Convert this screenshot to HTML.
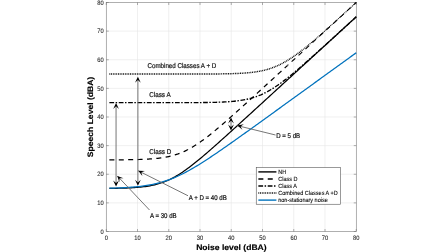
<!DOCTYPE html><html><head><meta charset="utf-8"><title>chart</title><style>html,body{margin:0;padding:0;background:#fff;overflow:hidden}svg{display:block}</style></head><body><svg width="448" height="252" viewBox="0 0 448 252" text-rendering="geometricPrecision">
<rect width="448" height="252" fill="#fff"/>
<path d="M137.50,2.5V231.5 M106.25,202.88H356.25 M168.75,2.5V231.5 M106.25,174.25H356.25 M200.00,2.5V231.5 M106.25,145.62H356.25 M231.25,2.5V231.5 M106.25,117.00H356.25 M262.50,2.5V231.5 M106.25,88.38H356.25 M293.75,2.5V231.5 M106.25,59.75H356.25 M325.00,2.5V231.5 M106.25,31.12H356.25" stroke="#e6e6e6" stroke-width="0.6" fill="none"/>
<rect x="106.25" y="2.5" width="250.0" height="229.0" fill="none" stroke="#6e6e6e" stroke-width="0.55"/>
<path d="M106.25,231.5v-2.5 M106.25,2.5v2.5 M106.25,231.50h2.5 M356.25,231.50h-2.5 M137.50,231.5v-2.5 M137.50,2.5v2.5 M106.25,202.88h2.5 M356.25,202.88h-2.5 M168.75,231.5v-2.5 M168.75,2.5v2.5 M106.25,174.25h2.5 M356.25,174.25h-2.5 M200.00,231.5v-2.5 M200.00,2.5v2.5 M106.25,145.62h2.5 M356.25,145.62h-2.5 M231.25,231.5v-2.5 M231.25,2.5v2.5 M106.25,117.00h2.5 M356.25,117.00h-2.5 M262.50,231.5v-2.5 M262.50,2.5v2.5 M106.25,88.38h2.5 M356.25,88.38h-2.5 M293.75,231.5v-2.5 M293.75,2.5v2.5 M106.25,59.75h2.5 M356.25,59.75h-2.5 M325.00,231.5v-2.5 M325.00,2.5v2.5 M106.25,31.12h2.5 M356.25,31.12h-2.5 M356.25,231.5v-2.5 M356.25,2.5v2.5 M106.25,2.50h2.5 M356.25,2.50h-2.5" stroke="#6e6e6e" stroke-width="0.55" fill="none"/>
<g font-family="Liberation Sans, Arial, sans-serif" fill="#2a2a2a" stroke="#2a2a2a" stroke-width="0.1">
<text transform="translate(106.25,240.10) scale(0.8929,1)" font-size="6.44" text-anchor="middle">0</text>
<text transform="translate(103.70,233.65) scale(0.8929,1)" font-size="6.44" text-anchor="end">0</text>
<text transform="translate(137.50,240.10) scale(0.8929,1)" font-size="6.44" text-anchor="middle">10</text>
<text transform="translate(103.70,205.03) scale(0.8929,1)" font-size="6.44" text-anchor="end">10</text>
<text transform="translate(168.75,240.10) scale(0.8929,1)" font-size="6.44" text-anchor="middle">20</text>
<text transform="translate(103.70,176.40) scale(0.8929,1)" font-size="6.44" text-anchor="end">20</text>
<text transform="translate(200.00,240.10) scale(0.8929,1)" font-size="6.44" text-anchor="middle">30</text>
<text transform="translate(103.70,147.78) scale(0.8929,1)" font-size="6.44" text-anchor="end">30</text>
<text transform="translate(231.25,240.10) scale(0.8929,1)" font-size="6.44" text-anchor="middle">40</text>
<text transform="translate(103.70,119.15) scale(0.8929,1)" font-size="6.44" text-anchor="end">40</text>
<text transform="translate(262.50,240.10) scale(0.8929,1)" font-size="6.44" text-anchor="middle">50</text>
<text transform="translate(103.70,90.53) scale(0.8929,1)" font-size="6.44" text-anchor="end">50</text>
<text transform="translate(293.75,240.10) scale(0.8929,1)" font-size="6.44" text-anchor="middle">60</text>
<text transform="translate(103.70,61.90) scale(0.8929,1)" font-size="6.44" text-anchor="end">60</text>
<text transform="translate(325.00,240.10) scale(0.8929,1)" font-size="6.44" text-anchor="middle">70</text>
<text transform="translate(103.70,33.27) scale(0.8929,1)" font-size="6.44" text-anchor="end">70</text>
<text transform="translate(356.25,240.10) scale(0.8929,1)" font-size="6.44" text-anchor="middle">80</text>
<text transform="translate(103.70,4.65) scale(0.8929,1)" font-size="6.44" text-anchor="end">80</text>
</g>
<g font-family="Liberation Sans, Arial, sans-serif" font-weight="bold" fill="#000" stroke="#000" stroke-width="0.15">
<text transform="translate(231.4,249.6) scale(1.085,1)" font-size="7.9" text-anchor="middle">Noise level (dBA)</text>
<text transform="translate(92.6,117) rotate(-90) scale(1.085,1)" font-size="7.9" text-anchor="middle">Speech Level (dBA)</text>
</g>
<path d="M109.38,188.41 L110.94,188.39 L112.50,188.37 L114.06,188.34 L115.62,188.32 L117.19,188.29 L118.75,188.25 L120.31,188.22 L121.88,188.18 L123.44,188.13 L125.00,188.08 L126.56,188.02 L128.12,187.95 L129.69,187.88 L131.25,187.80 L132.81,187.71 L134.38,187.61 L135.94,187.50 L137.50,187.38 L139.06,187.24 L140.62,187.09 L142.19,186.92 L143.75,186.73 L145.31,186.53 L146.88,186.30 L148.44,186.05 L150.00,185.78 L151.56,185.48 L153.12,185.15 L154.69,184.79 L156.25,184.40 L157.81,183.97 L159.38,183.51 L160.94,183.02 L162.50,182.48 L164.06,181.91 L165.62,181.29 L167.19,180.64 L168.75,179.95 L170.31,179.21 L171.88,178.43 L173.44,177.61 L175.00,176.76 L176.56,175.86 L178.12,174.92 L179.69,173.95 L181.25,172.95 L182.81,171.91 L184.38,170.83 L185.94,169.73 L187.50,168.60 L189.06,167.44 L190.62,166.26 L192.19,165.06 L193.75,163.83 L195.31,162.59 L196.88,161.33 L198.44,160.05 L200.00,158.75 L201.56,157.44 L203.12,156.12 L204.69,154.79 L206.25,153.45 L207.81,152.10 L209.38,150.74 L210.94,149.38 L212.50,148.00 L214.06,146.62 L215.62,145.24 L217.19,143.85 L218.75,142.45 L220.31,141.06 L221.88,139.65 L223.44,138.25 L225.00,136.84 L226.56,135.43 L228.12,134.02 L229.69,132.61 L231.25,131.19 L232.81,129.77 L234.38,128.35 L235.94,126.93 L237.50,125.51 L239.06,124.09 L240.62,122.66 L242.19,121.24 L243.75,119.81 L245.31,118.39 L246.88,116.96 L248.44,115.53 L250.00,114.11 L251.56,112.68 L253.12,111.25 L254.69,109.82 L256.25,108.39 L257.81,106.96 L259.38,105.53 L260.94,104.10 L262.50,102.68 L264.06,101.25 L265.62,99.82 L267.19,98.38 L268.75,96.95 L270.31,95.52 L271.88,94.09 L273.44,92.66 L275.00,91.23 L276.56,89.80 L278.12,88.37 L279.69,86.94 L281.25,85.51 L282.81,84.08 L284.38,82.65 L285.94,81.22 L287.50,79.79 L289.06,78.35 L290.62,76.92 L292.19,75.49 L293.75,74.06 L295.31,72.63 L296.88,71.20 L298.44,69.77 L300.00,68.34 L301.56,66.91 L303.12,65.47 L304.69,64.04 L306.25,62.61 L307.81,61.18 L309.38,59.75 L310.94,58.32 L312.50,56.89 L314.06,55.46 L315.62,54.02 L317.19,52.59 L318.75,51.16 L320.31,49.73 L321.88,48.30 L323.44,46.87 L325.00,45.44 L326.56,44.01 L328.12,42.57 L329.69,41.14 L331.25,39.71 L332.81,38.28 L334.38,36.85 L335.94,35.42 L337.50,33.99 L339.06,32.56 L340.62,31.12 L342.19,29.69 L343.75,28.26 L345.31,26.83 L346.88,25.40 L348.44,23.97 L350.00,22.54 L351.56,21.11 L353.12,19.67 L354.69,18.24 L356.25,16.81" stroke="#000" stroke-width="1.25" fill="none"/>
<path d="M109.38,159.89 L110.94,159.88 L112.50,159.88 L114.06,159.87 L115.62,159.86 L117.19,159.85 L118.75,159.84 L120.31,159.83 L121.88,159.81 L123.44,159.80 L125.00,159.78 L126.56,159.76 L128.12,159.74 L129.69,159.72 L131.25,159.69 L132.81,159.66 L134.38,159.63 L135.94,159.59 L137.50,159.55 L139.06,159.50 L140.62,159.45 L142.19,159.39 L143.75,159.33 L145.31,159.26 L146.88,159.18 L148.44,159.09 L150.00,158.99 L151.56,158.88 L153.12,158.75 L154.69,158.62 L156.25,158.46 L157.81,158.29 L159.38,158.11 L160.94,157.90 L162.50,157.68 L164.06,157.43 L165.62,157.15 L167.19,156.85 L168.75,156.52 L170.31,156.16 L171.88,155.77 L173.44,155.35 L175.00,154.89 L176.56,154.39 L178.12,153.86 L179.69,153.28 L181.25,152.67 L182.81,152.02 L184.38,151.32 L185.94,150.58 L187.50,149.81 L189.06,148.99 L190.62,148.13 L192.19,147.23 L193.75,146.30 L195.31,145.33 L196.88,144.32 L198.44,143.28 L200.00,142.21 L201.56,141.11 L203.12,139.98 L204.69,138.82 L206.25,137.64 L207.81,136.43 L209.38,135.21 L210.94,133.96 L212.50,132.70 L214.06,131.42 L215.62,130.13 L217.19,128.82 L218.75,127.50 L220.31,126.17 L221.88,124.83 L223.44,123.48 L225.00,122.12 L226.56,120.75 L228.12,119.38 L229.69,118.00 L231.25,116.61 L232.81,115.22 L234.38,113.83 L235.94,112.43 L237.50,111.03 L239.06,109.62 L240.62,108.22 L242.19,106.81 L243.75,105.39 L245.31,103.98 L246.88,102.56 L248.44,101.15 L250.00,99.73 L251.56,98.31 L253.12,96.88 L254.69,95.46 L256.25,94.04 L257.81,92.61 L259.38,91.19 L260.94,89.76 L262.50,88.34 L264.06,86.91 L265.62,85.48 L267.19,84.05 L268.75,82.63 L270.31,81.20 L271.88,79.77 L273.44,78.34 L275.00,76.91 L276.56,75.48 L278.12,74.05 L279.69,72.62 L281.25,71.19 L282.81,69.76 L284.38,68.33 L285.94,66.90 L287.50,65.47" stroke="#000" stroke-width="1.25" fill="none" stroke-dasharray="5.0,4.4"/>
<path d="M287.50,65.47 L289.06,64.04 L290.62,62.61 L292.19,61.18 L293.75,59.75 L295.31,58.32 L296.88,56.88 L298.44,55.45 L300.00,54.02 L301.56,52.59 L303.12,51.16 L304.69,49.73 L306.25,48.30 L307.81,46.87 L309.38,45.44 L310.94,44.01 L312.50,42.57 L314.06,41.14 L315.62,39.71 L317.19,38.28 L318.75,36.85 L320.31,35.42 L321.88,33.99 L323.44,32.56 L325.00,31.12 L326.56,29.69 L328.12,28.26 L329.69,26.83 L331.25,25.40 L332.81,23.97 L334.38,22.54 L335.94,21.11 L337.50,19.67 L339.06,18.24 L340.62,16.81 L342.19,15.38 L343.75,13.95 L345.31,12.52 L346.88,11.09 L348.44,9.66 L350.00,8.22 L351.56,6.79 L353.12,5.36 L354.69,3.93 L356.25,2.50" stroke="#000" stroke-width="1.05" fill="none" stroke-dasharray="5.0,4.4" stroke-dashoffset="3.82"/>
<path d="M109.38,102.69 L110.94,102.69 L112.50,102.69 L114.06,102.69 L115.62,102.69 L117.19,102.69 L118.75,102.69 L120.31,102.69 L121.88,102.69 L123.44,102.69 L125.00,102.69 L126.56,102.69 L128.12,102.69 L129.69,102.69 L131.25,102.69 L132.81,102.69 L134.38,102.69 L135.94,102.69 L137.50,102.69 L139.06,102.69 L140.62,102.69 L142.19,102.69 L143.75,102.69 L145.31,102.69 L146.88,102.69 L148.44,102.68 L150.00,102.68 L151.56,102.68 L153.12,102.68 L154.69,102.68 L156.25,102.68 L157.81,102.68 L159.38,102.68 L160.94,102.68 L162.50,102.68 L164.06,102.68 L165.62,102.68 L167.19,102.68 L168.75,102.68 L170.31,102.67 L171.88,102.67 L173.44,102.67 L175.00,102.67 L176.56,102.67 L178.12,102.66 L179.69,102.66 L181.25,102.66 L182.81,102.65 L184.38,102.65 L185.94,102.64 L187.50,102.64 L189.06,102.63 L190.62,102.63 L192.19,102.62 L193.75,102.61 L195.31,102.60 L196.88,102.59 L198.44,102.58 L200.00,102.56 L201.56,102.55 L203.12,102.53 L204.69,102.51 L206.25,102.49 L207.81,102.47 L209.38,102.44 L210.94,102.41 L212.50,102.38 L214.06,102.34 L215.62,102.30 L217.19,102.25 L218.75,102.20 L220.31,102.14 L221.88,102.08 L223.44,102.01 L225.00,101.93 L226.56,101.84 L228.12,101.74 L229.69,101.63 L231.25,101.50 L232.81,101.37 L234.38,101.21 L235.94,101.04 L237.50,100.86 L239.06,100.65 L240.62,100.43 L242.19,100.18 L243.75,99.90 L245.31,99.60 L246.88,99.27 L248.44,98.91 L250.00,98.52 L251.56,98.10 L253.12,97.64 L254.69,97.14 L256.25,96.61 L257.81,96.03 L259.38,95.42 L260.94,94.77 L262.50,94.07 L264.06,93.33 L265.62,92.56 L267.19,91.74 L268.75,90.88 L270.31,89.98 L271.88,89.05 L273.44,88.08 L275.00,87.07 L276.56,86.03 L278.12,84.96 L279.69,83.86 L281.25,82.73 L282.81,81.57 L284.38,80.39 L285.94,79.18 L287.50,77.96 L289.06,76.71 L290.62,75.45 L292.19,74.17 L293.75,72.88 L295.31,71.57 L296.88,70.25 L298.44,68.92 L300.00,67.58 L301.56,66.23 L303.12,64.87 L304.69,63.50 L306.25,62.13 L307.81,60.75 L309.38,59.36 L310.94,57.97 L312.50,56.58 L314.06,55.18 L315.62,53.78 L317.19,52.37 L318.75,50.97 L320.31,49.56 L321.88,48.14 L323.44,46.73 L325.00,45.31 L326.56,43.90 L328.12,42.48 L329.69,41.06 L331.25,39.63 L332.81,38.21 L334.38,36.79 L335.94,35.36 L337.50,33.94 L339.06,32.51 L340.62,31.09 L342.19,29.66 L343.75,28.23 L345.31,26.80 L346.88,25.38 L348.44,23.95 L350.00,22.52 L351.56,21.09 L353.12,19.66 L354.69,18.23 L356.25,16.80" stroke="#000" stroke-width="1.35" fill="none" stroke-dasharray="4.75,1.5,1.5,1.62"/>
<path d="M109.38,74.06 L110.94,74.06 L112.50,74.06 L114.06,74.06 L115.62,74.06 L117.19,74.06 L118.75,74.06 L120.31,74.06 L121.88,74.06 L123.44,74.06 L125.00,74.06 L126.56,74.06 L128.12,74.06 L129.69,74.06 L131.25,74.06 L132.81,74.06 L134.38,74.06 L135.94,74.06 L137.50,74.06 L139.06,74.06 L140.62,74.06 L142.19,74.06 L143.75,74.06 L145.31,74.06 L146.88,74.06 L148.44,74.06 L150.00,74.06 L151.56,74.06 L153.12,74.06 L154.69,74.06 L156.25,74.06 L157.81,74.06 L159.38,74.06 L160.94,74.06 L162.50,74.06 L164.06,74.06 L165.62,74.06 L167.19,74.06 L168.75,74.06 L170.31,74.06 L171.88,74.06 L173.44,74.06 L175.00,74.06 L176.56,74.06 L178.12,74.05 L179.69,74.05 L181.25,74.05 L182.81,74.05 L184.38,74.05 L185.94,74.05 L187.50,74.05 L189.06,74.04 L190.62,74.04 L192.19,74.04 L193.75,74.04 L195.31,74.03 L196.88,74.03 L198.44,74.03 L200.00,74.02 L201.56,74.02 L203.12,74.01 L204.69,74.01 L206.25,74.00 L207.81,73.99 L209.38,73.98 L210.94,73.97 L212.50,73.96 L214.06,73.95 L215.62,73.94 L217.19,73.92 L218.75,73.91 L220.31,73.89 L221.88,73.87 L223.44,73.84 L225.00,73.82 L226.56,73.79 L228.12,73.75 L229.69,73.72 L231.25,73.68 L232.81,73.63 L234.38,73.58 L235.94,73.52 L237.50,73.45 L239.06,73.38 L240.62,73.30 L242.19,73.21 L243.75,73.11 L245.31,73.00 L246.88,72.88 L248.44,72.74 L250.00,72.59 L251.56,72.42 L253.12,72.23 L254.69,72.03 L256.25,71.80 L257.81,71.55 L259.38,71.28 L260.94,70.98 L262.50,70.65 L264.06,70.29 L265.62,69.90 L267.19,69.47 L268.75,69.01 L270.31,68.52 L271.88,67.98 L273.44,67.41 L275.00,66.79 L276.56,66.14 L278.12,65.45 L279.69,64.71 L281.25,63.93 L282.81,63.11 L284.38,62.26 L285.94,61.36 L287.50,60.42 L289.06,59.45 L290.62,58.45 L292.19,57.41 L293.75,56.33 L295.31,55.23 L296.88,54.10 L298.44,52.94 L300.00,51.76 L301.56,50.56 L303.12,49.33" stroke="#000" stroke-width="1.45" fill="none" stroke-dasharray="0.92,0.8"/>
<path d="M303.12,49.33 L304.69,48.09 L306.25,46.83 L307.81,45.55 L309.38,44.25 L310.94,42.94 L312.50,41.62 L314.06,40.29 L315.62,38.95 L317.19,37.60 L318.75,36.24 L320.31,34.88 L321.88,33.50 L323.44,32.12 L325.00,30.74 L326.56,29.35 L328.12,27.95 L329.69,26.56 L331.25,25.15 L332.81,23.75 L334.38,22.34 L335.94,20.93 L337.50,19.52 L339.06,18.11 L340.62,16.69 L342.19,15.27 L343.75,13.85 L345.31,12.43 L346.88,11.01 L348.44,9.59 L350.00,8.16 L351.56,6.74 L353.12,5.31 L354.69,3.89 L356.25,2.46" stroke="#000" stroke-width="1.05" fill="none" stroke-dasharray="0.92,0.8" stroke-dashoffset="0.11"/>
<path d="M109.38,188.17 L110.94,188.14 L112.50,188.10 L114.06,188.05 L115.62,188.00 L117.19,187.95 L118.75,187.90 L120.31,187.83 L121.88,187.77 L123.44,187.69 L125.00,187.61 L126.56,187.53 L128.12,187.43 L129.69,187.33 L131.25,187.22 L132.81,187.10 L134.38,186.97 L135.94,186.83 L137.50,186.67 L139.06,186.51 L140.62,186.33 L142.19,186.14 L143.75,185.93 L145.31,185.70 L146.88,185.46 L148.44,185.20 L150.00,184.93 L151.56,184.63 L153.12,184.31 L154.69,183.98 L156.25,183.62 L157.81,183.23 L159.38,182.83 L160.94,182.40 L162.50,181.94 L164.06,181.46 L165.62,180.96 L167.19,180.43 L168.75,179.87 L170.31,179.29 L171.88,178.69 L173.44,178.05 L175.00,177.39 L176.56,176.71 L178.12,176.01 L179.69,175.27 L181.25,174.52 L182.81,173.74 L184.38,172.95 L185.94,172.13 L187.50,171.29 L189.06,170.43 L190.62,169.55 L192.19,168.66 L193.75,167.75 L195.31,166.82 L196.88,165.88 L198.44,164.93 L200.00,163.96 L201.56,162.98 L203.12,161.98 L204.69,160.98 L206.25,159.97 L207.81,158.95 L209.38,157.92 L210.94,156.88 L212.50,155.83 L214.06,154.78 L215.62,153.72 L217.19,152.66 L218.75,151.59 L220.31,150.51 L221.88,149.43 L223.44,148.35 L225.00,147.26 L226.56,146.17 L228.12,145.07 L229.69,143.97 L231.25,142.87 L232.81,141.77 L234.38,140.66 L235.94,139.56 L237.50,138.45 L239.06,137.33 L240.62,136.22 L242.19,135.11 L243.75,133.99 L245.31,132.87 L246.88,131.76 L248.44,130.64 L250.00,129.52 L251.56,128.39 L253.12,127.27 L254.69,126.15 L256.25,125.03 L257.81,123.90 L259.38,122.78 L260.94,121.65 L262.50,120.53 L264.06,119.40 L265.62,118.27 L267.19,117.15 L268.75,116.02 L270.31,114.89 L271.88,113.76 L273.44,112.64 L275.00,111.51 L276.56,110.38 L278.12,109.25 L279.69,108.12 L281.25,106.99 L282.81,105.86 L284.38,104.73 L285.94,103.60 L287.50,102.47 L289.06,101.35 L290.62,100.22 L292.19,99.09 L293.75,97.96 L295.31,96.83 L296.88,95.70 L298.44,94.57 L300.00,93.44 L301.56,92.31 L303.12,91.18 L304.69,90.05 L306.25,88.91 L307.81,87.78 L309.38,86.65 L310.94,85.52 L312.50,84.39 L314.06,83.26 L315.62,82.13 L317.19,81.00 L318.75,79.87 L320.31,78.74 L321.88,77.61 L323.44,76.48 L325.00,75.35 L326.56,74.22 L328.12,73.09 L329.69,71.96 L331.25,70.83 L332.81,69.70 L334.38,68.57 L335.94,67.44 L337.50,66.30 L339.06,65.17 L340.62,64.04 L342.19,62.91 L343.75,61.78 L345.31,60.65 L346.88,59.52 L348.44,58.39 L350.00,57.26 L351.56,56.13 L353.12,55.00 L354.69,53.87 L356.25,52.74" stroke="#0072BD" stroke-width="1.25" fill="none"/>
<path d="M116.05,105.00V184.40" stroke="#666" stroke-width="0.9"/>
<polygon transform="translate(116.05,103.00) rotate(-90.0)" points="0,0 -6.0,-2.9 -3.3,0 -6.0,2.9" fill="#000"/>
<polygon transform="translate(116.05,186.40) rotate(90.0)" points="0,0 -6.0,-2.9 -3.3,0 -6.0,2.9" fill="#000"/>
<path d="M137.90,78.80V183.80" stroke="#666" stroke-width="0.9"/>
<polygon transform="translate(137.90,76.80) rotate(-90.0)" points="0,0 -6.0,-2.9 -3.3,0 -6.0,2.9" fill="#000"/>
<polygon transform="translate(137.90,185.80) rotate(90.0)" points="0,0 -6.0,-2.9 -3.3,0 -6.0,2.9" fill="#000"/>
<path d="M231.00,119.50V128.40" stroke="#666" stroke-width="0.9"/>
<polygon transform="translate(231.00,117.50) rotate(-90.0)" points="0,0 -6.0,-2.9 -3.3,0 -6.0,2.9" fill="#000"/>
<polygon transform="translate(231.00,130.40) rotate(90.0)" points="0,0 -6.0,-2.9 -3.3,0 -6.0,2.9" fill="#000"/>
<path d="M149.5,210L117.3,175.9" stroke="#666" stroke-width="0.9"/>
<polygon transform="translate(117.30,175.90) rotate(-133.4)" points="0,0 -6.0,-2.9 -3.3,0 -6.0,2.9" fill="#000"/>
<path d="M188,195.75L138.3,170.8" stroke="#666" stroke-width="0.9"/>
<polygon transform="translate(138.30,170.80) rotate(-153.3)" points="0,0 -6.0,-2.9 -3.3,0 -6.0,2.9" fill="#000"/>
<path d="M275.5,135L237.3,125.6" stroke="#666" stroke-width="0.9"/>
<polygon transform="translate(237.30,125.60) rotate(-166.2)" points="0,0 -6.0,-2.9 -3.3,0 -6.0,2.9" fill="#000"/>
<g font-family="Liberation Sans, Arial, sans-serif" fill="#111" stroke="#111" stroke-width="0.2">
<text transform="translate(147.50,68.20) scale(0.8929,1)" font-size="6.94" text-anchor="start">Combined Classes A + D</text>
<text transform="translate(149.25,97.10) scale(0.8929,1)" font-size="7.06" text-anchor="start">Class A</text>
<text transform="translate(149.25,153.60) scale(0.8929,1)" font-size="7.06" text-anchor="start">Class D</text>
<text transform="translate(150.00,217.60) scale(0.8929,1)" font-size="6.83" text-anchor="start">A = 30 dB</text>
<text transform="translate(188.75,199.70) scale(0.8929,1)" font-size="6.83" text-anchor="start">A + D = 40 dB</text>
<text transform="translate(276.25,138.00) scale(0.8929,1)" font-size="6.83" text-anchor="start">D = 5 dB</text>
</g>
<rect x="256.25" y="167.5" width="84.25" height="36.75" fill="#fff" stroke="#555" stroke-width="0.6"/>
<path d="M258.35,171.9H276.4" stroke="#000" stroke-width="1.4"/>
<path d="M258.35,178.95H276.4" stroke="#000" stroke-width="1.4" stroke-dasharray="5.0,4.4"/>
<path d="M258.35,186.0H276.4" stroke="#000" stroke-width="1.4" stroke-dasharray="4.75,1.5,1.5,1.62"/>
<path d="M258.35,193.05H276.4" stroke="#000" stroke-width="1.4" stroke-dasharray="0.9,0.82"/>
<path d="M258.35,200.1H276.4" stroke="#0072BD" stroke-width="1.4"/>
<g font-family="Liberation Sans, Arial, sans-serif" fill="#111" stroke="#111" stroke-width="0.12">
<text transform="translate(278.25,173.95) scale(0.8929,1)" font-size="6.16" text-anchor="start">NH</text>
<text transform="translate(278.25,181.00) scale(0.8929,1)" font-size="6.16" text-anchor="start">Class D</text>
<text transform="translate(278.25,188.05) scale(0.8929,1)" font-size="6.16" text-anchor="start">Class A</text>
<text transform="translate(278.25,195.10) scale(0.8929,1)" font-size="6.16" text-anchor="start">Combined Classes A +D</text>
<text transform="translate(278.25,202.15) scale(0.8929,1)" font-size="6.16" text-anchor="start">non-stationary noise</text>
</g>
</svg></body></html>
